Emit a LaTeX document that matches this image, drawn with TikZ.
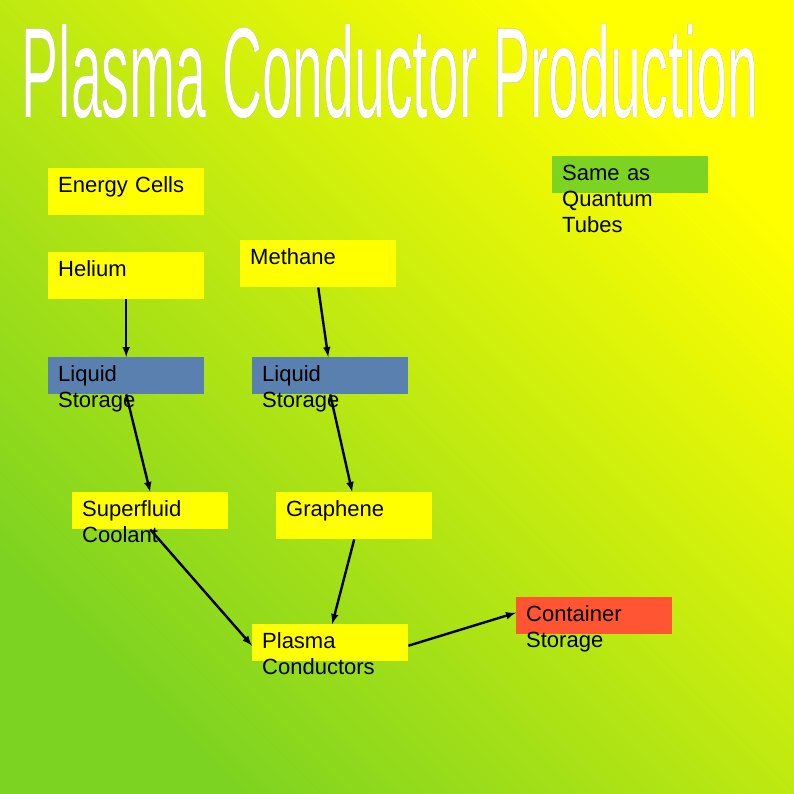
\documentclass[tikz,border=0pt]{standalone}
\usepackage{fontspec}
\setmainfont{Liberation Sans}
\usepackage[outline]{contour}
\contourlength{1.2pt}
\definecolor{bgtop}{HTML}{FFFF00}
\definecolor{bgbot}{HTML}{7DD321}
\definecolor{boxyellow}{HTML}{FFFF00}
\definecolor{boxblue}{HTML}{5A80B0}
\definecolor{boxred}{HTML}{FF5533}
\definecolor{boxgreen}{HTML}{7DD321}
\tikzset{
  stage/.style={anchor=north west, inner xsep=10pt, inner ysep=8pt,
    text width=136pt, align=left, text height=16pt,
    font=\fontsize{22pt}{26pt}\selectfont, fill=boxyellow},
  single/.style={stage, text depth=15pt},
  flow/.style={-latex, line width=2.4pt}
}
\begin{document}
\begin{tikzpicture}[x=1pt,y=-1pt]
  \useasboundingbox (0,0) rectangle (794,794);
  \shade[left color=bgtop, right color=bgbot, shading angle=-45]
    (0,0) rectangle (794,794);
  \node (title) at (390,72) {\resizebox{736pt}{93pt}{\contour{gray}{\textcolor{white}{Plasma Conductor Production}}}};
  % sources
  \node[single] (energy) at (48,168) {Energy Cells};
  \node[single] (helium) at (48,252) {Helium};
  \node[single] (methane) at (240,240) {Methane};
  \node[stage, fill=boxgreen, text depth=5pt] (same) at (552,156) {Same as\\Quantum\\Tubes};
  % intermediates
  \node[stage, fill=boxblue, text depth=5pt] (liquidA) at (48,357) {Liquid\\Storage};
  \node[stage, fill=boxblue, text depth=5pt] (liquidB) at (252,357) {Liquid\\Storage};
  \node[stage, text depth=5pt] (coolant) at (72,492) {Superfluid\\Coolant};
  \node[single] (graphene) at (276,492) {Graphene};
  \node[stage, text depth=5pt] (plasma) at (252,624) {Plasma\\Conductors};
  \node[stage, fill=boxred, text depth=5pt] (container) at (516,597) {Container\\Storage};
  % arrows
  \draw[flow] (helium.south) -- (liquidA.north);
  \draw[flow] (methane.south) -- ([xshift=-2pt]liquidB.north);
  \draw[flow] (liquidA.south) -- (coolant.north);
  \draw[flow] (liquidB.south) -- ([xshift=-2pt]graphene.north);
  \draw[flow] (coolant.south) -- ([yshift=-3pt]plasma.west);
  \draw[flow] (graphene.south) -- ([xshift=2pt]plasma.north);
  \draw[flow] ([yshift=-3pt]plasma.east) -- ([yshift=3pt]container.west);
\end{tikzpicture}
\end{document}
